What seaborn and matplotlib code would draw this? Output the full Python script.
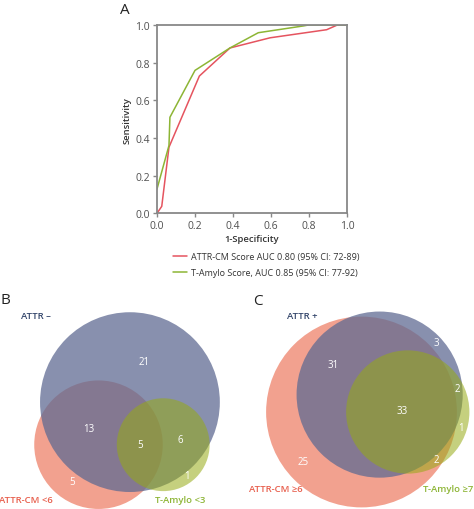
import numpy as np
import pandas as pd
import matplotlib
matplotlib.use("Agg")
import matplotlib.pyplot as plt
import seaborn as sns
from matplotlib.patches import Circle
from matplotlib.lines import Line2D

# ROC curve data

attr_cm_fpr = [0.0, 0.025, 0.063, 0.223, 0.384, 0.595, 0.893, 0.949, 1.0]
attr_cm_tpr = [0.0, 0.037, 0.351, 0.729, 0.878, 0.932, 0.975, 1.0, 1.0]

t_amylo_fpr = [0.0, 0.063, 0.068, 0.200, 0.384, 0.533, 0.770, 0.797, 1.0]
t_amylo_tpr = [0.129, 0.360, 0.510, 0.759, 0.878, 0.959, 0.995, 1.0, 1.0]

roc_labels = [
    "ATTR-CM Score AUC 0.80 (95% CI: 72-89)",
    "T-Amylo Score, AUC 0.85 (95% CI: 77-92)",
]
roc_ticks = [0.0, 0.2, 0.4, 0.6, 0.8, 1.0]

# Venn region counts, key = membership in (set 1, set 2, set 3)

venn_b_sets = ["ATTR \u2013", "ATTR-CM <6", "T-Amylo <3"]
venn_b_counts = {"100": 21, "110": 13, "111": 5, "101": 6, "001": 1, "010": 5, "011": 0}

venn_c_sets = ["ATTR +", "ATTR-CM \u22656", "T-Amylo \u22657"]
venn_c_counts = {"100": 3, "110": 31, "111": 33, "101": 2, "001": 1, "010": 25, "011": 2}

# Style

RED = "#E5545F"
GREEN = "#8DB535"
SET_TEXT = ["#34466B", "#E8604E", "#8DB535"]
CIRCLE_FILL = ["#606B93", "#F2A18F", "#96AA14"]
CIRCLE_ALPHA = [0.75, 1.0, 0.55]

sns.set_theme(style="white")
plt.rcParams["font.family"] = ["Open Sans", "DejaVu Sans"]

W, H = 474, 510
fig = plt.figure(figsize=(W / 100, H / 100), dpi=100)

# Panel A - ROC curves

roc = pd.concat([
    pd.DataFrame({"fpr": attr_cm_fpr, "tpr": attr_cm_tpr, "model": roc_labels[0]}),
    pd.DataFrame({"fpr": t_amylo_fpr, "tpr": t_amylo_tpr, "model": roc_labels[1]}),
], ignore_index=True)

ax = fig.add_axes([157 / W, 1 - 214.3 / H, 190 / W, 188.3 / H])

sns.lineplot(
    data=roc,
    x="fpr",
    y="tpr",
    hue="model",
    palette=[RED, GREEN],
    sort=False,
    estimator=None,
    legend=False,
    linewidth=1.1,
    ax=ax
)

ax.set_xlim(0, 1)
ax.set_ylim(0, 1)
ax.set_xticks(roc_ticks)
ax.set_yticks(roc_ticks)
ax.set_xticklabels([f"{t:.1f}" for t in roc_ticks])
ax.set_yticklabels([f"{t:.1f}" for t in roc_ticks])
ax.tick_params(axis="both", which="major", direction="out", length=3, width=1,
               color="#888888", labelsize=7.5, labelcolor="#505050", pad=2,
               bottom=True, left=True)
for s in ax.spines.values():
    s.set_color("#888888")
    s.set_linewidth(1.3)

ax.set_xlabel("1-Specificity", fontsize=6.8, fontweight="semibold", color="#333333", labelpad=2)
ax.set_ylabel("Sensitivity", fontsize=6.8, fontweight="semibold", color="#333333", labelpad=3)

handles = [Line2D([], [], color=RED, lw=1.1), Line2D([], [], color=GREEN, lw=1.1)]
fig.legend(
    handles,
    roc_labels,
    loc="upper left",
    bbox_to_anchor=(173 / W, 1 - 253 / H),
    frameon=False,
    fontsize=6.5,
    labelcolor="#333333",
    handlelength=1.6,
    handletextpad=0.4,
    labelspacing=0.75,
    borderpad=0,
    borderaxespad=0
)

fig.text(120 / W, 1 - 14 / H, "A", fontsize=11, color="#222222")

# Venn helpers


def lens_area(r1, r2, d):
    if d >= r1 + r2:
        return 0.0
    if d <= abs(r1 - r2):
        return np.pi * min(r1, r2) ** 2
    a1 = r1 ** 2 * np.arccos((d * d + r1 * r1 - r2 * r2) / (2 * d * r1))
    a2 = r2 ** 2 * np.arccos((d * d + r2 * r2 - r1 * r1) / (2 * d * r2))
    a3 = 0.5 * np.sqrt((-d + r1 + r2) * (d + r1 - r2) * (d - r1 + r2) * (d + r1 + r2))
    return a1 + a2 - a3


def solve_distance(r1, r2, target):
    lo, hi = abs(r1 - r2) + 1e-9, r1 + r2
    for _ in range(80):
        mid = (lo + hi) / 2
        if lens_area(r1, r2, mid) > target:
            lo = mid
        else:
            hi = mid
    return (lo + hi) / 2


def venn_layout(counts):
    totals = [sum(v for k, v in counts.items() if k[i] == "1") for i in range(3)]
    radii = [np.sqrt(t) for t in totals]

    def pair(i, j):
        n = sum(v for k, v in counts.items() if k[i] == "1" and k[j] == "1")
        return solve_distance(radii[i], radii[j], np.pi * n)

    d01, d02, d12 = pair(0, 1), pair(0, 2), pair(1, 2)
    # set 2 at origin, set 3 to its right, set 1 above
    x = (d01 ** 2 - d02 ** 2 + d12 ** 2) / (2 * d12)
    y = np.sqrt(max(d01 ** 2 - x ** 2, 0))
    centers = [(x, y), (0.0, 0.0), (d12, 0.0)]
    return centers, radii


def label_spots(counts, centers, radii):
    xs = np.linspace(-12, 16, 400)
    ys = np.linspace(-12, 16, 400)
    gx, gy = np.meshgrid(xs, ys)
    dist = [np.hypot(gx - c[0], gy - c[1]) for c in centers]
    inside = [dist[i] < radii[i] for i in range(3)]
    edge = np.min([np.abs(dist[i] - radii[i]) for i in range(3)], axis=0)
    spots = {}
    for key, n in counts.items():
        if n == 0:
            continue
        mask = np.ones_like(gx, dtype=bool)
        for i in range(3):
            mask &= inside[i] if key[i] == "1" else ~inside[i]
        if not mask.any():
            continue
        # deepest point of the region
        score = np.where(mask, edge, -1)
        idx = np.unravel_index(np.argmax(score), score.shape)
        px, py = gx[idx], gy[idx]
        # pull toward the centroid, if it sits well inside the region
        cx, cy = gx[mask].mean(), gy[mask].mean()
        j = np.argmin(np.abs(xs - cx))
        i = np.argmin(np.abs(ys - cy))
        if mask[i, j] and edge[i, j] > 0.35 * score[idx]:
            px, py = (px + 2 * cx) / 3, (py + 2 * cy) / 3
        spots[key] = (px, py)
    return spots


def venn_axes(rect_px, origin_px, scale):
    x0, y0, w, h = rect_px
    vax = fig.add_axes([x0 / W, 1 - (y0 + h) / H, w / W, h / H])
    ox, oy = origin_px
    vax.set_xlim(-(ox - x0) / scale, (x0 + w - ox) / scale)
    vax.set_ylim(-(y0 + h - oy) / scale, (oy - y0) / scale)
    vax.axis("off")
    return vax


def draw_venn(vax, sets, counts, label_pos):
    centers, radii = venn_layout(counts)
    for i in [1, 0, 2]:
        vax.add_patch(Circle(centers[i], radii[i], facecolor=CIRCLE_FILL[i],
                             alpha=CIRCLE_ALPHA[i], edgecolor="none", clip_on=False))
    for key, (lx, ly) in label_spots(counts, centers, radii).items():
        vax.text(lx, ly, str(counts[key]), color="white", fontsize=7,
                 ha="center", va="center")
    for i, (px, py, ha) in enumerate(label_pos):
        vax.text(px, py, sets[i], color=SET_TEXT[i], fontsize=6.8,
                 fontweight="semibold", ha=ha, va="center", transform=vax.transAxes)


# Panel B

ax_b = venn_axes((0, 285, 237, 225), (98.5, 445.7), 13.4)
draw_venn(ax_b, venn_b_sets, venn_b_counts,
          [(0.152, 0.862, "center"), (0.11, 0.044, "center"), (0.76, 0.044, "center")])
fig.text(0 / W, 1 - 304 / H, "B", fontsize=11, color="#222222")

# Panel C

ax_c = venn_axes((237, 285, 237, 225), (361.5, 413), 10.0)
draw_venn(ax_c, venn_c_sets, venn_c_counts,
          [(0.276, 0.858, "center"), (0.165, 0.089, "center"), (0.785, 0.089, "left")])
fig.text(253 / W, 1 - 305 / H, "C", fontsize=11, color="#222222")

fig.savefig("out.png", dpi=100)
